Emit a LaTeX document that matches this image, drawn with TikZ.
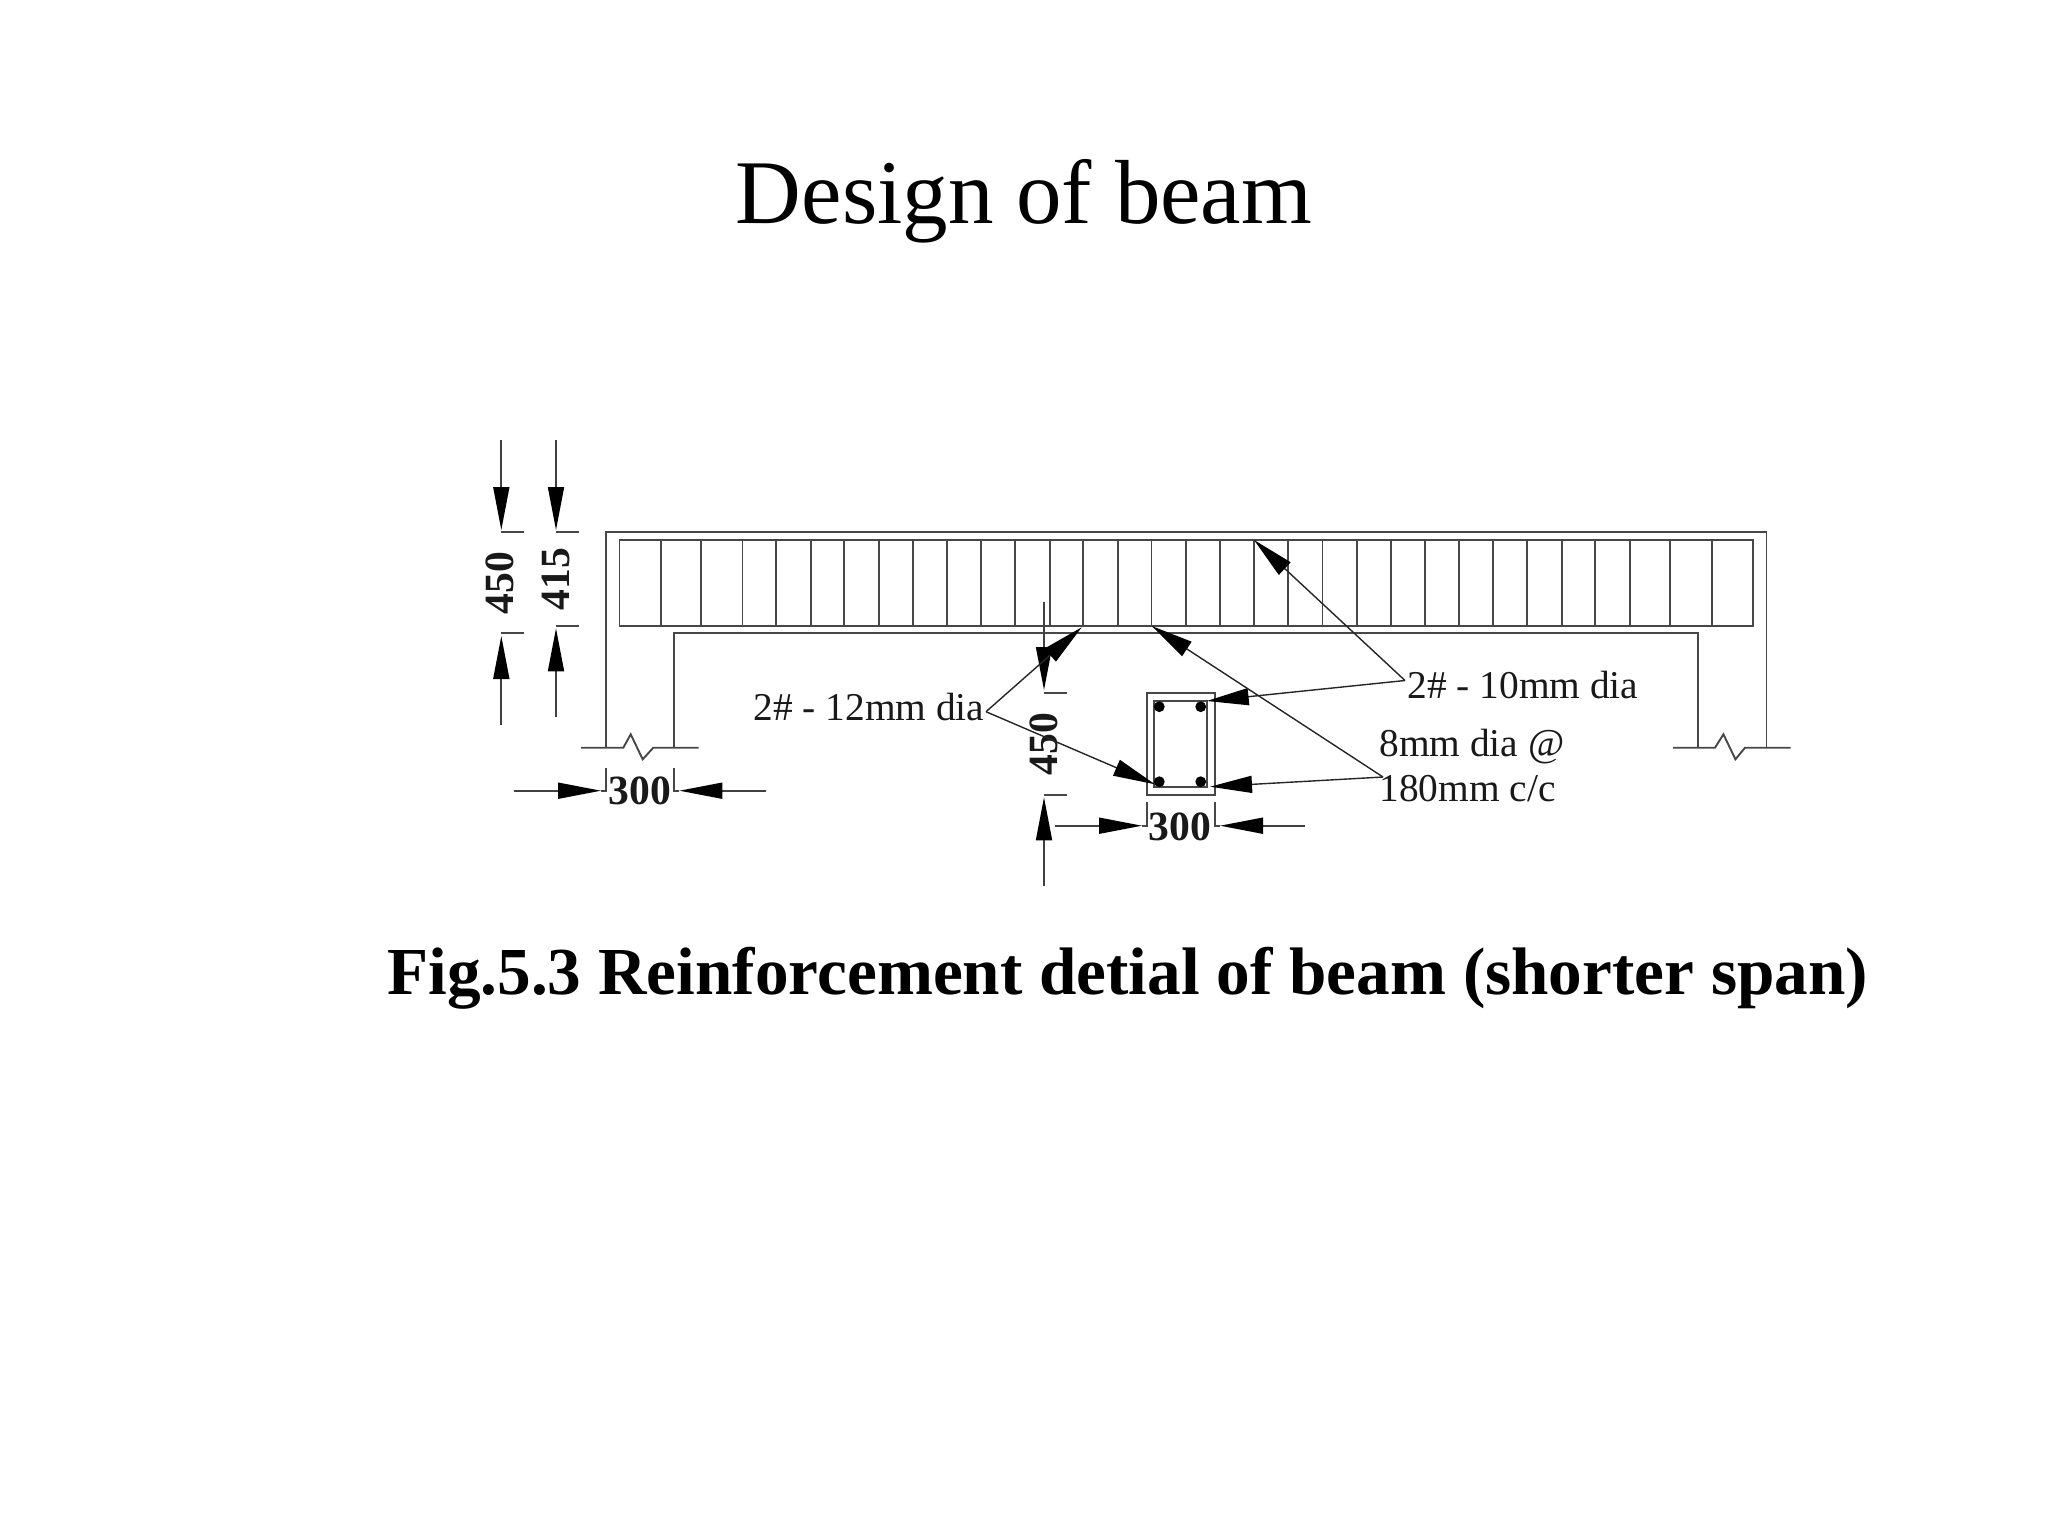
\documentclass[tikz,border=0pt]{standalone}
\usepackage{fontspec}
\setmainfont{Liberation Serif}
\usetikzlibrary{arrows.meta}
\tikzset{
  ln/.style={draw=black!72,line width=0.95pt,line join=miter},
  dimarrow/.style={draw=black!75,line width=0.85pt,-{Triangle[length=21.5pt,width=8pt,fill=black,color=black]}},
  leader/.style={draw=black!85,line width=0.7pt,-{Triangle[length=21pt,width=8.5pt,fill=black,color=black]}},
  dimtext/.style={font=\fontsize{20.8pt}{24pt}\selectfont\bfseries,inner sep=0pt,text=black!90},
  note/.style={font=\fontsize{19.7pt}{24pt}\selectfont,inner sep=0pt,anchor=base west,text=black!90},
  rebar/.style={circle,fill=black,draw=none,minimum size=5.4pt,inner sep=0pt}
}
\begin{document}
\begin{tikzpicture}[x=0.5pt,y=-0.5pt]
\useasboundingbox (0,0) rectangle (2048,1536);
\fill[white] (0,0) rectangle (2048,1536);

% title and caption
\node[anchor=base,inner sep=0pt,font=\fontsize{45.5pt}{50pt}\selectfont] (title) at (1024,223.5) {Design of beam};
\node[anchor=base west,inner sep=0pt,font=\fontsize{33.6pt}{38pt}\selectfont\bfseries] (caption) at (387,994) {Fig.5.3 Reinforcement detial of beam (shorter span)};

% beam outline
\draw[ln] (606,747.7) -- (606,532) -- (1766.5,532) -- (1766.5,747.7);
\draw[ln] (674,747.7) -- (674,633.3) -- (1698,633.3) -- (1698,747.7);
\draw[ln] (581,747.7) -- (623.3,747.7) -- (630.7,734.3) -- (642.7,759.3) -- (653.3,747.7) -- (698.7,747.7);
\draw[ln] (1673.2,747.7) -- (1715,747.7) -- (1723.4,734.3) -- (1735.4,759.3) -- (1745,747.7) -- (1790.5,747.7);

% stirrups
\draw[ln] (619.5,540) rectangle (1753,626);
\foreach \sx in {660.7,701,742.5,776,810.7,844.3,878.6,913.2,946.8,981.4,1015.4,1049.6,1083.2,1117.9,1151.5,1186,1219.7,1254,1287.6,1322.5,1356.9,1390.9,1425.3,1458.9,1493.3,1527.3,1561.7,1595.3,1629.7,1670.3,1711.8}
  \draw[ln] (\sx,540) -- (\sx,626);

% cross-section
\draw[ln] (1146.7,693) rectangle (1215,795);
\draw[ln] (1154,700.7) rectangle (1206.7,787.3);
\node[rebar] (b1) at (1159.3,706.7) {};
\node[rebar] (b2) at (1200.7,706.7) {};
\node[rebar] (b3) at (1159.3,781.7) {};
\node[rebar] (b4) at (1200.7,781.7) {};

% left dimension 450
\coordinate (a1s) at (501.3,440); \coordinate (a1t) at (501.3,530);
\coordinate (a2s) at (501.3,725); \coordinate (a2t) at (501.3,636);
\draw[dimarrow] (a1s) -- (a1t);
\draw[dimarrow] (a2s) -- (a2t);
\draw[ln] (501.3,532) -- (524,532);
\draw[ln] (501.3,633.3) -- (524,633.3);
\node[dimtext,rotate=90] (d450a) at (500,583) {450};

% left dimension 415
\coordinate (c1s) at (556,440); \coordinate (c1t) at (556,530);
\coordinate (c2s) at (556,717.3); \coordinate (c2t) at (556,628.3);
\draw[dimarrow] (c1s) -- (c1t);
\draw[dimarrow] (c2s) -- (c2t);
\draw[ln] (556,532) -- (579.3,532);
\draw[ln] (556,626) -- (579.3,626);
\node[dimtext,rotate=90] (d415) at (556,579) {415};

% support dimension 300
\coordinate (e1s) at (514.3,790.7); \coordinate (e1t) at (601,790.7);
\coordinate (e2s) at (766,790.7); \coordinate (e2t) at (679.3,790.7);
\draw[dimarrow] (e1s) -- (e1t);
\draw[dimarrow] (e2s) -- (e2t);
\draw[ln] (601,790.7) -- (606,790.7) -- (606,768);
\draw[ln] (679.3,790.7) -- (674,790.7) -- (674,768);
\node[dimtext] (d300a) at (640,791) {300};

% section dimension 450
\coordinate (f1s) at (1044,601.7); \coordinate (f1t) at (1044,690);
\coordinate (f2s) at (1044,886); \coordinate (f2t) at (1044,797.3);
\draw[dimarrow] (f1s) -- (f1t);
\draw[dimarrow] (f2s) -- (f2t);
\draw[ln] (1044,693) -- (1067.3,693);
\draw[ln] (1044,795) -- (1067.3,795);
\node[dimtext,rotate=90] (d450b) at (1044,744.3) {450};

% section dimension 300
\coordinate (g1s) at (1055.3,825.7); \coordinate (g1t) at (1142,825.7);
\coordinate (g2s) at (1305.3,825.7); \coordinate (g2t) at (1220,825.7);
\draw[dimarrow] (g1s) -- (g1t);
\draw[dimarrow] (g2s) -- (g2t);
\draw[ln] (1142,825.7) -- (1146.7,825.7) -- (1146.7,802);
\draw[ln] (1220,825.7) -- (1215,825.7) -- (1215,802);
\node[dimtext] (d300b) at (1180,826.7) {300};

% notes
\node[note] (n12) at (753,720.5) {2\# - 12mm dia};
\node[note] (n10) at (1407,698) {2\# - 10mm dia};
\node[note] (n8a) at (1379,756) {8mm dia @};
\node[note] (n8b) at (1379,801.5) {180mm c/c};

% leaders
\coordinate (l12) at (986,711.7);
\coordinate (l10) at (1405,680.5);
\coordinate (l8) at (1383,777);
\coordinate (t12a) at (1081.7,627.3);
\coordinate (t12b) at (1155,784.3);
\coordinate (t10a) at (1254,540);
\coordinate (t10b) at (1206.7,701);
\coordinate (t8a) at (1151.7,626);
\coordinate (t8b) at (1210,786.7);
\draw[leader] (l12) -- (t12a);
\draw[leader] (l12) -- (t12b);
\draw[leader] (l10) -- (t10a);
\draw[leader] (l10) -- (t10b);
\draw[leader] (l8) -- (t8a);
\draw[leader] (l8) -- (t8b);
\end{tikzpicture}
\end{document}
